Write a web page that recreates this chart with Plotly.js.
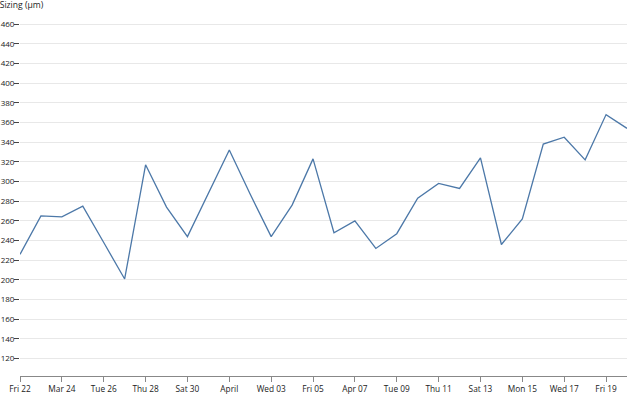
<!DOCTYPE html>
<html>
<head>
<meta charset="utf-8">
<script src="https://cdn.plot.ly/plotly-3.0.1.min.js"></script>
<style>html,body{margin:0;padding:0;background:#fff;}#chart{width:640px;height:400px;}</style>
</head>
<body>
<div id="chart"></div>
<script>
const dates = ["2019-03-22","2019-03-23","2019-03-24","2019-03-25","2019-03-26","2019-03-27","2019-03-28","2019-03-29","2019-03-30","2019-03-31",
  "2019-04-01","2019-04-02","2019-04-03","2019-04-04","2019-04-05","2019-04-06","2019-04-07","2019-04-08","2019-04-09","2019-04-10",
  "2019-04-11","2019-04-12","2019-04-13","2019-04-14","2019-04-15","2019-04-16","2019-04-17","2019-04-18","2019-04-19","2019-04-20"];
const sizing = [226,265,264,275,238,201,317,274,244,288,
  332,287,244,276,323,248,260,232,247,283,
  298,293,324,236,262,338,345,322,368,354];
const xTickVals = ["2019-03-22","2019-03-24","2019-03-26","2019-03-28","2019-03-30","2019-04-01","2019-04-03","2019-04-05","2019-04-07","2019-04-09","2019-04-11","2019-04-13","2019-04-15","2019-04-17","2019-04-19"];
const xTickText = ["Fri 22","Mar 24","Tue 26","Thu 28","Sat 30","April","Wed 03","Fri 05","Apr 07","Tue 09","Thu 11","Sat 13","Mon 15","Wed 17","Fri 19"];
const yTickVals = [120,140,160,180,200,220,240,260,280,300,320,340,360,380,400,420,440,460];
const yTitle = "Acoustic Sizing (µm)";

const trace = {
  x: dates, y: sizing, type: "scatter", mode: "lines",
  line: {color: "#4c78a8", width: 1.3},
  hoverinfo: "x+y"
};
const layout = {
  width: 640, height: 400,
  margin: {l: 20, r: 13, t: 14, b: 24, pad: 0},
  paper_bgcolor: "#fff", plot_bgcolor: "#fff",
  font: {family: "Open Sans, sans-serif", size: 8, color: "#222"},
  showlegend: false,
  xaxis: {
    type: "date", range: ["2019-03-22", "2019-04-20"],
    tickmode: "array", tickvals: xTickVals, ticktext: xTickText,
    showgrid: false, zeroline: false,
    showline: true, linecolor: "#888", linewidth: 1,
    ticks: "outside", ticklen: 5, tickcolor: "#888", tickwidth: 1,
    tickfont: {size: 8.3, color: "#222"},
    ticklabelstandoff: 0
  },
  yaxis: {
    range: [102.4, 470.2],
    tickmode: "array", tickvals: yTickVals,
    showgrid: true, gridcolor: "#e8e8e8", gridwidth: 1,
    zeroline: false, showline: false,
    ticks: "outside", ticklen: 5, tickcolor: "#444", tickwidth: 1,
    tickfont: {size: 8, color: "#222"},
    ticklabelstandoff: -2
  },
  annotations: [{
    text: yTitle, xref: "paper", yref: "paper",
    x: 0.0428, y: 1.025, xanchor: "right", yanchor: "middle",
    showarrow: false, font: {size: 8.6, color: "#222"}
  }]
};
Plotly.newPlot("chart", [trace], layout, {displayModeBar: false, staticPlot: true});
</script>
</body>
</html>
